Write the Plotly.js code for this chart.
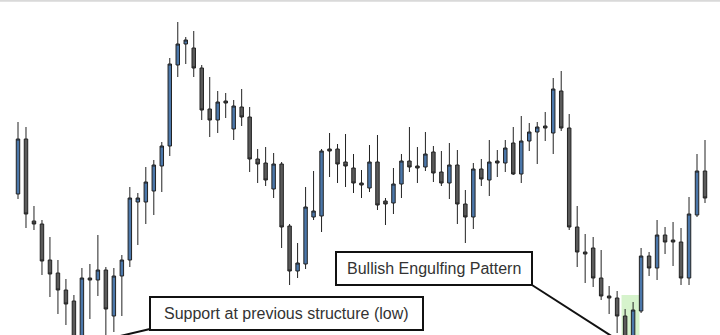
<!DOCTYPE html>
<html>
<head>
<meta charset="utf-8">
<script src="https://cdn.plot.ly/plotly-3.0.1.min.js"></script>
<style>html,body{margin:0;padding:0;background:#fff;}#chart{width:720px;height:335px;}</style>
</head>
<body>
<div id="chart"></div>
<script>
// Candle values (arbitrary price units)
const openVals  = [141,196,114,111,75,62,45,34,-10,57,55,65,19,59,75,133,133,144,169,189,270,291,287,267,226,215,234,206,228,218,176,172,146,171,109,64,71,118,119,186,186,173,167,152,147,173,134,132,151,174,169,168,183,163,152,170,131,118,166,155,174,172,192,161,194,203,209,202,244,207,108,83,87,57,39,37,19,-10,24,79,67,100,95,93,57,120,164];
const highVals  = [213,208,129,115,98,75,56,40,67,71,100,68,67,80,148,142,168,175,193,277,313,298,304,270,258,244,242,235,246,228,186,188,182,173,111,92,148,164,186,202,191,201,181,165,190,200,137,167,181,208,188,203,189,184,192,185,145,172,176,195,185,195,208,219,212,213,223,257,264,221,129,101,98,85,49,44,26,33,87,83,115,108,113,107,138,181,195];
const lowVals   = [136,107,105,60,38,21,10,-25,-25,16,39,-10,3,19,68,90,111,120,143,179,258,271,258,215,198,202,217,195,209,163,152,149,137,87,50,57,66,115,103,158,152,148,142,137,143,125,110,121,137,163,152,164,153,149,136,111,92,106,149,139,158,163,160,152,184,171,194,181,204,105,68,52,48,35,21,2,-20,-20,22,59,55,81,69,50,50,118,132];
const closeVals = [196,121,111,74,61,45,31,-10,57,55,65,26,59,75,137,137,153,170,189,271,291,295,267,225,215,233,232,229,218,176,171,155,171,108,64,72,128,124,184,184,171,169,152,150,173,130,131,151,174,168,167,181,162,152,170,131,118,166,156,173,172,187,161,194,203,208,207,246,207,108,83,81,57,39,37,19,-10,25,79,67,100,93,93,57,121,164,137];
const candleIndex = openVals.map((_, i) => i);

const supportLabel = "Support at previous structure (low)";
const engulfLabel = "Bullish Engulfing Pattern";

const W = 720, H = 335;
const px = x => x / W;
const py = y => 1 - y / H;

const trace = {
  type: 'candlestick',
  x: candleIndex,
  open: openVals, high: highVals, low: lowVals, close: closeVals,
  increasing: {fillcolor: '#4b77aa', line: {color: '#222222', width: 1}},
  decreasing: {fillcolor: '#5a5a5a', line: {color: '#222222', width: 1}},
  whiskerwidth: 0,
  hoverinfo: 'skip'
};

const ppu = (705 - 18) / 86;
const layout = {
  width: W, height: H,
  margin: {l: 0, r: 0, t: 0, b: 0},
  paper_bgcolor: '#ffffff', plot_bgcolor: '#ffffff',
  showlegend: false,
  boxgap: 0.38,
  xaxis: {range: [-18 / ppu, 86 + 15 / ppu], visible: false, rangeslider: {visible: false}, fixedrange: true},
  yaxis: {range: [0, 335], visible: false, fixedrange: true},
  shapes: [
    {type: 'rect', xref: 'x', yref: 'y', x0: 75.55, x1: 77.8, y0: -5, y1: 40, fillcolor: '#d6f3cc', line: {width: 0}, layer: 'below'},
    {type: 'line', xref: 'paper', yref: 'paper', x0: 0, x1: 1, y0: py(0.8), y1: py(0.8), line: {color: '#d9d9d9', width: 2}},
    {type: 'line', xref: 'paper', yref: 'paper', x0: px(150), y0: py(329), x1: px(116), y1: py(337), line: {color: '#111', width: 2}},
    {type: 'rect', xref: 'paper', yref: 'paper', x0: px(150), x1: px(423), y0: py(330), y1: py(297), fillcolor: '#ffffff', line: {color: '#111', width: 2}},
    {type: 'line', xref: 'paper', yref: 'paper', x0: px(532), y0: py(285), x1: px(613), y1: py(337), line: {color: '#111', width: 2}},
    {type: 'rect', xref: 'paper', yref: 'paper', x0: px(336), x1: px(532), y0: py(285), y1: py(252), fillcolor: '#ffffff', line: {color: '#111', width: 2}}
  ],
  annotations: [
    {xref: 'paper', yref: 'paper', x: px(286), y: py(313.5), text: supportLabel, showarrow: false, xanchor: 'center', yanchor: 'middle', font: {family: 'Liberation Sans, Arial, sans-serif', size: 16, color: '#333333'}},
    {xref: 'paper', yref: 'paper', x: px(433.5), y: py(268.5), text: engulfLabel, showarrow: false, xanchor: 'center', yanchor: 'middle', font: {family: 'Liberation Sans, Arial, sans-serif', size: 16, color: '#333333'}}
  ]
};

Plotly.newPlot('chart', [trace], layout, {staticPlot: true, displayModeBar: false});
</script>
</body>
</html>
